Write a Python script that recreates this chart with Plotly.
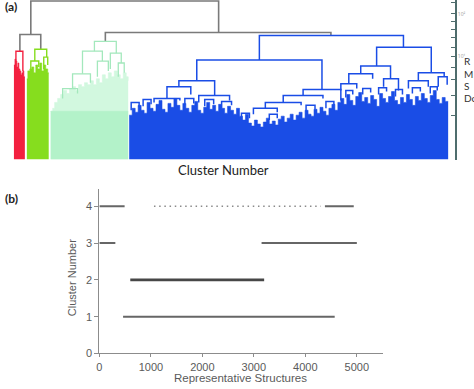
import plotly.graph_objects as go

# ================= Panel (a): dendrogram =================
# leaf-order position (x) and linkage distance (h)
# each link: [left x, right x, merge height, left child height, right child height]
gray_links = [
    [28, 217, 161, 127, 129],
    [17, 38, 127, 110, 112],
    [103, 330, 129, 120, 126],
]
red_links = [
    [13, 20, 110, 100, 90],
]
green_links = [
    [32, 44, 112, 100, 104],
    [28, 36, 100, 90, 94],
    [41, 45, 104, 92, 96],
]
mint_links = [
    [92, 114, 120, 110, 108],
    [80, 100, 110, 87, 100],
    [95, 106, 100, 84, 90],
    [108, 119, 108, 92, 98],
    [116, 122, 98, 84, 88],
    [70, 88, 87, 72, 78],
    [60, 75, 72, 62, 67],
]
blue_links = [
    [258, 403, 126, 101, 114],
    [195, 321, 101, 80, 71],
    [376, 431, 114, 95, 88],
    [177, 213, 80, 74, 65],
    [165, 189, 74, 62, 66],
    [197, 228, 65, 58, 60],
    [152, 178, 62, 58, 60],
    [302, 340, 71, 65, 60],
    [282, 322, 65, 58, 62],
    [264, 300, 58, 52, 55],
    [252, 276, 52, 46, 48],
    [360, 390, 95, 87, 82],
    [348, 372, 87, 77, 82],
    [383, 398, 82, 74, 70],
    [418, 444, 88, 80, 84],
    [408, 428, 80, 72, 74],
    [438, 447, 84, 74, 76],
    [340, 356, 77, 70, 72],
    # small sub-clusters along the top of the leaf mass
    [129, 137, 58, 50, 53],
    [141, 149, 61, 54, 56],
    [183, 192, 62, 55, 57],
    [203, 212, 61, 54, 56],
    [220, 230, 59, 52, 55],
    [240, 248, 47, 40, 42],
    [268, 276, 46, 40, 42],
    [305, 314, 55, 49, 51],
    [325, 333, 59, 52, 55],
    [345, 352, 70, 63, 66],
    [362, 370, 72, 66, 68],
    [378, 386, 73, 66, 69],
    [395, 402, 71, 64, 66],
    [412, 420, 73, 67, 69],
    [430, 437, 74, 67, 70],
]

# leaf mass outlines (x, top height) for each cluster
red_x = [11, 12, 13, 14, 15, 16, 17, 18, 19, 20, 21, 22]
red_h = [96, 102, 100, 94, 98, 92, 90, 86, 88, 90, 84, 84]
green_x = [24, 25, 27, 29, 31, 33, 35, 37, 39, 41, 43, 45, 46]
green_h = [82, 90, 92, 94, 88, 96, 92, 98, 90, 96, 92, 88, 88]
mint_x = [48, 50, 52, 55, 58, 61, 64, 67, 70, 73, 76, 79, 82, 85, 88, 91, 94,
          97, 100, 103, 106, 109, 112, 115, 118, 121, 124, 126]
mint_h = [49, 52, 58, 62, 66, 70, 67, 72, 74, 70, 76, 74, 78, 76, 80, 76, 82,
          78, 86, 82, 88, 84, 90, 86, 82, 88, 84, 80]
mint_base_x = [48, 126]
mint_base_h = [49, 49]
blue_x = list(range(127, 446, 3)) + [448]
blue_h = [45, 52, 48, 55, 50, 47, 58, 52, 49, 56, 60, 51, 48, 57, 53, 62, 55,
          50, 57, 52, 48, 55, 59, 50, 47, 53, 58, 51, 55, 49, 56, 52, 47, 54, 50, 46, 52,
          44, 40, 46, 37, 34, 40, 36, 33, 38, 42, 36, 39, 35, 41, 44, 38, 42, 46,
          40, 45, 48, 42, 50, 46, 44, 51, 47, 53, 49, 45, 52, 56, 50, 58,
          62, 56, 66, 60, 55, 64, 68, 59, 63, 57, 65, 61, 54, 67, 62, 58, 64, 69,
          60, 56, 63, 58, 66, 61, 55, 64, 60, 67, 62, 58, 65, 70, 61, 57, 63, 59,
          59]

axis_tick_h = [159, 148, 140, 132, 124, 114, 105, 93, 81, 65, 45]
axis_tick_txt = ["", "10\u00b2", "", "", "", "", "10\u00b9", "", "", "", ""]
side_labels = ["R", "M", "S", "Do"]
side_label_y = [62, 75, 87, 100]   # pixel rows of the clipped side labels

# ================= Panel (b): representative structures =================
seg_cluster = [4, 4, 3, 3, 2, 1]
seg_start = [0, 4380, 0, 3150, 600, 460]
seg_end = [490, 4940, 310, 5000, 3200, 4570]
dot_cluster = [4]
dot_start = [1060]
dot_end = [4300]
b_ticks_x = [0, 1000, 2000, 3000, 4000, 5000]
b_ticks_y = [0, 1, 2, 3, 4]

W, H = 474, 389

RED = "#f3203f"
GREEN = "#86dd1e"
MINT = "#b3f2c9"
MINT_LIGHT = "#d2f8df"
MINT_LINE = "#a3e8bc"
BLUE = "#1a4de6"
GRAY = "#7a7a7a"

fig = go.Figure()


def link_path(links):
    xs, ys = [], []
    for xl, xr, ht, hl, hr in links:
        xs += [xl, xl, xr, xr, None]
        ys += [hl, ht, ht, hr, None]
    return xs, ys


def mass(xs, hs, color, fillcolor):
    fig.add_trace(go.Scatter(x=xs, y=hs, mode="lines", xaxis="x2", yaxis="y2",
                             line=dict(shape="hv", width=0.6, color=color),
                             fill="tozeroy", fillcolor=fillcolor,
                             hoverinfo="skip"))


mass(red_x, red_h, RED, RED)
mass(green_x, green_h, GREEN, GREEN)
mass(mint_x, mint_h, MINT_LIGHT, MINT_LIGHT)
mass(mint_base_x, mint_base_h, MINT, MINT)
mass(blue_x, blue_h, BLUE, BLUE)

for links, col, w in [(gray_links, GRAY, 1.6), (red_links, RED, 1.4),
                      (green_links, GREEN, 1.4), (mint_links, MINT_LINE, 1.3),
                      (blue_links, BLUE, 1.5)]:
    xs, ys = link_path(links)
    fig.add_trace(go.Scatter(x=xs, y=ys, mode="lines", xaxis="x2", yaxis="y2",
                             line=dict(color=col, width=w), hoverinfo="skip"))

# panel (b) segments
for c, s, e in zip(seg_cluster, seg_start, seg_end):
    thick = c == 2
    fig.add_trace(go.Scatter(x=[s, e], y=[c, c], mode="lines",
                             line=dict(color="#474747" if thick else "#666666",
                                       width=2.8 if thick else 2),
                             hoverinfo="skip"))
for c, s, e in zip(dot_cluster, dot_start, dot_end):
    fig.add_trace(go.Scatter(x=[s, e], y=[c, c], mode="lines",
                             line=dict(color="#8a8a8a", width=1.5, dash="1.5px,3.7px"),
                             hoverinfo="skip"))

# layout
x2_right = 455
fig.update_layout(
    width=W, height=H, margin=dict(l=0, r=0, t=0, b=0),
    paper_bgcolor="white", plot_bgcolor="white", showlegend=False,
    xaxis2=dict(domain=[0, x2_right / W], range=[0, x2_right], anchor="y2",
                visible=False),
    yaxis2=dict(domain=[1 - 162 / H, 1], range=[0, 162], anchor="x2",
                side="right", showline=True, linecolor="#4f6d6d", linewidth=1.5,
                ticks="inside", ticklen=4, tickcolor="#4f6d6d",
                tickvals=axis_tick_h, ticktext=axis_tick_txt,
                tickfont=dict(size=5, color="#999999"),
                showgrid=False, zeroline=False),
    xaxis=dict(domain=[97 / W, 382 / W], range=[0, 5500], anchor="y",
               showline=True, linecolor="#8c8c8c", linewidth=1,
               ticks="outside", ticklen=3, tickcolor="#8c8c8c",
               tickvals=b_ticks_x, ticktext=[str(v) for v in b_ticks_x],
               tickfont=dict(family="Liberation Sans", size=11, color="#5a5a5a"),
               showgrid=False, zeroline=False),
    yaxis=dict(domain=[1 - 359 / H, 1 - 192 / H], range=[0, 4.47], anchor="x",
               showline=True, linecolor="#8c8c8c", linewidth=1,
               ticks="outside", ticklen=4, tickcolor="#8c8c8c",
               tickvals=b_ticks_y, ticktext=[str(v) for v in b_ticks_y],
               tickfont=dict(family="Liberation Sans", size=11, color="#5a5a5a"),
               showgrid=False, zeroline=False),
)

ann = []
ann.append(dict(text="<b>(a)</b>", x=0, y=1 - 7 / H, xanchor="left", yanchor="middle"))
ann.append(dict(text="<b>(b)</b>", x=0, y=1 - 202 / H, xanchor="left", yanchor="middle"))
for lab, yy in zip(side_labels, side_label_y):
    ann.append(dict(text=lab, x=462 / W, y=1 - yy / H, xanchor="left", yanchor="middle",
                    font=dict(family="Lato", size=10, color="#333333")))
ann.append(dict(text="Cluster Number", x=222 / W, y=1 - 173 / H, xanchor="center",
                yanchor="middle", font=dict(family="Lato", size=13, color="#222222")))
ann.append(dict(text="Representative Structures", x=239 / W, y=1 - 384 / H,
                xanchor="center", yanchor="middle",
                font=dict(family="Liberation Sans", size=11.5, color="#5a5a5a")))
ann.append(dict(text="Cluster Number", x=69 / W, y=1 - 282 / H, xanchor="center",
                yanchor="middle", textangle=-90,
                font=dict(family="Liberation Sans", size=11, color="#5a5a5a")))
for a in ann:
    a.setdefault("font", dict(family="Lato", size=12, color="#222222"))
    a.update(xref="paper", yref="paper", showarrow=False)
fig.update_layout(annotations=ann)

fig.write_html("out.html")
